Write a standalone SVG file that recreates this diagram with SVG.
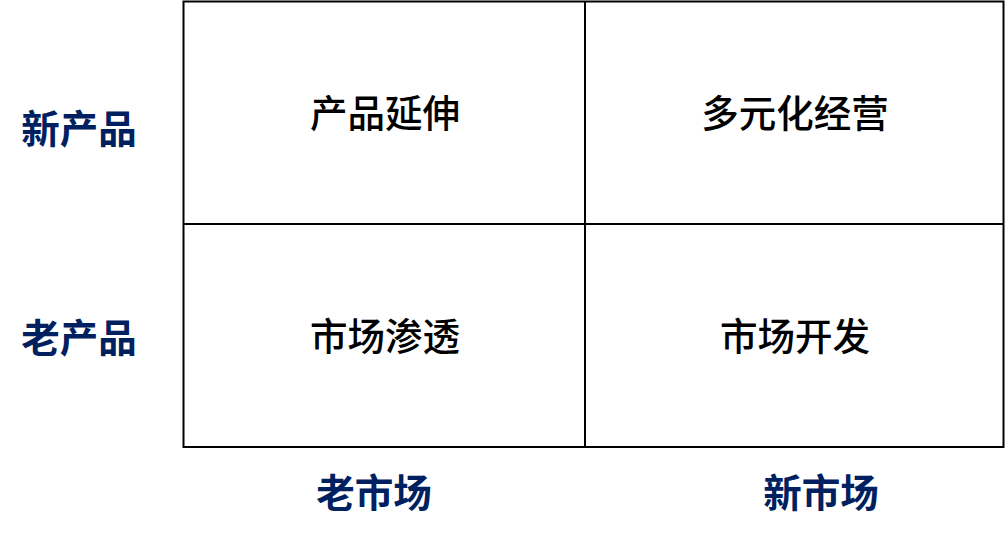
<svg xmlns="http://www.w3.org/2000/svg" width="1006" height="538" viewBox="0 0 1006 538">
<style>
.ax{font-family:"Liberation Sans","Noto Sans CJK SC",sans-serif;font-size:38.5px;font-weight:bold;fill:#002060;text-anchor:middle;dominant-baseline:central}
.cl{font-family:"Liberation Sans","Noto Sans CJK SC",sans-serif;font-size:37.5px;font-weight:500;fill:#000;text-anchor:middle;dominant-baseline:central}
.ln{stroke:#000;stroke-width:2;fill:none}
</style>
<rect width="1006" height="538" fill="#fff"/>
<g id="grid">
<rect class="ln" x="183.5" y="1.5" width="820" height="445.5"/>
<line class="ln" x1="585" y1="1.5" x2="585" y2="447"/>
<line class="ln" x1="183.5" y1="224" x2="1003.5" y2="224"/>
</g>
<g id="cell-tl"><text class="cl" x="385" y="114">产品延伸</text></g>
<g id="cell-tr"><text class="cl" x="795" y="114">多元化经营</text></g>
<g id="cell-bl"><text class="cl" x="385" y="337">市场渗透</text></g>
<g id="cell-br"><text class="cl" x="795" y="337">市场开发</text></g>
<g id="row-new"><text class="ax" x="79" y="129">新产品</text></g>
<g id="row-old"><text class="ax" x="79" y="338">老产品</text></g>
<g id="col-old"><text class="ax" x="374" y="493">老市场</text></g>
<g id="col-new"><text class="ax" x="821" y="493">新市场</text></g>
</svg>
